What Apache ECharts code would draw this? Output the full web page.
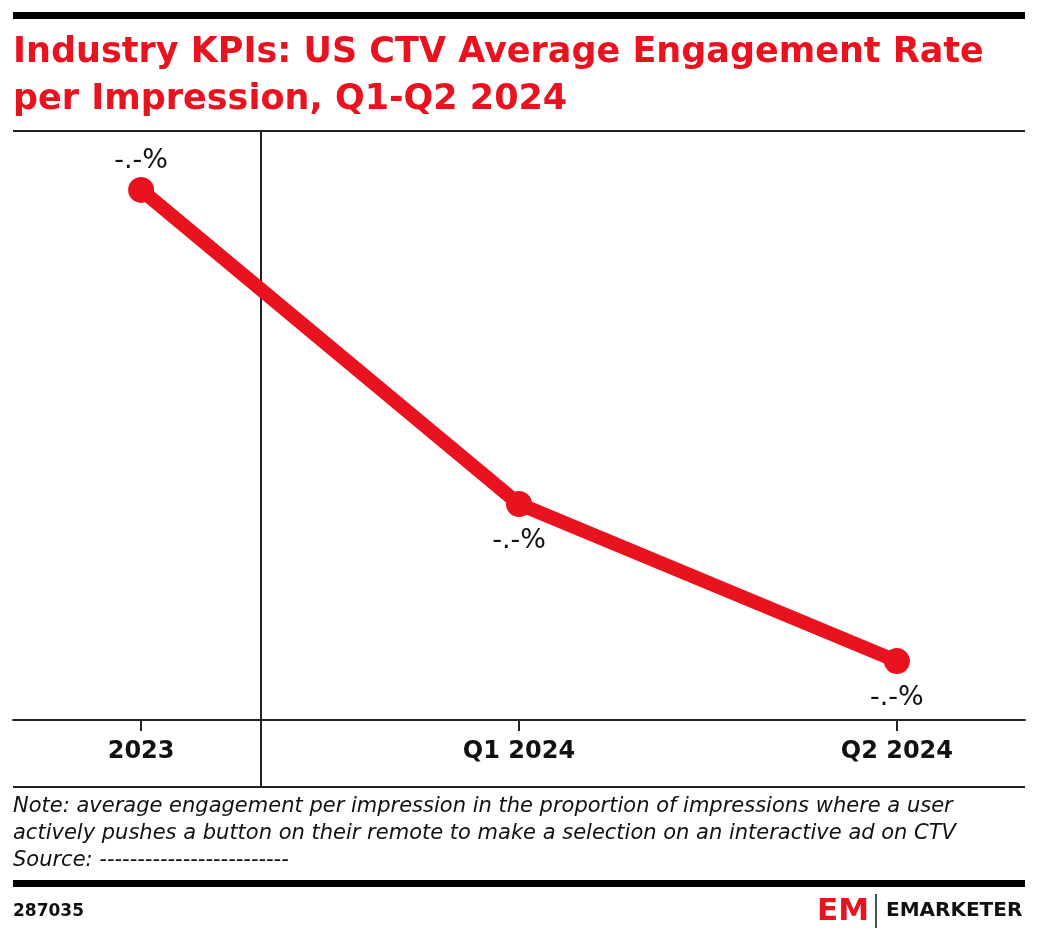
<!DOCTYPE html>
<html>
<head>
<meta charset="utf-8">
<script src="https://cdn.jsdelivr.net/npm/echarts@6/dist/echarts.min.js"></script>
<style>
  html, body { margin: 0; padding: 0; background: #fff; }
  #chart { width: 1038px; height: 941px; }
</style>
</head>
<body>
<div id="chart"></div>
<script>
// data (labels are masked in the source)
const categories = ['2023', 'Q1 2024', 'Q2 2024'];
const engagementRate = [2.70, 1.10, 0.30];
const pointLabels = ['-.-%', '-.-%', '-.-%'];
const labelSides = ['top', 'bottom', 'bottom'];
const labelGaps = [2, 10, 10];

const red = '#e8131f';
const dark = '#222';
const font = 'DejaVu Sans';

const chart = echarts.init(document.getElementById('chart'));

const seriesData = engagementRate.map((v, i) => ({
    value: [i, v],
    label: {
        show: true,
        position: labelSides[i],
        distance: labelGaps[i],
        formatter: pointLabels[i],
        color: '#111',
        fontSize: 27,
        fontFamily: font
    }
}));

const option = {
    backgroundColor: '#fff',
    animation: false,
    grid: {
        top: 131,
        left: 13,
        right: 13,
        bottom: 221
    },
    xAxis: {
        type: 'value',
        min: -0.339,
        max: 2.339,
        splitLine: { show: false },
        axisLine: { show: true, onZero: false, lineStyle: { color: dark, width: 2 } },
        axisTick: {
            show: true,
            customValues: [0, 1, 2],
            length: 11,
            lineStyle: { color: dark, width: 2 }
        },
        axisLabel: {
            customValues: [0, 1, 2],
            formatter: v => categories[Math.round(v)],
            margin: 20,
            color: '#111',
            fontSize: 24,
            fontWeight: 'bold',
            fontFamily: font
        }
    },
    yAxis: {
        type: 'value',
        min: 0,
        max: 3,
        show: false
    },
    graphic: [
        // top black bar
        { type: 'rect', shape: { x: 13, y: 12, width: 1012, height: 7 }, style: { fill: '#000' } },
        // title
        {
            type: 'text', left: 13, top: 29,
            style: {
                text: 'Industry KPIs: US CTV Average Engagement Rate\nper Impression, Q1-Q2 2024',
                fill: red, font: 'bold 35px "DejaVu Sans"', lineHeight: 47
            }
        },
        // divider under title
        { type: 'line', shape: { x1: 13, y1: 131, x2: 1025, y2: 131 }, style: { stroke: dark, lineWidth: 2 } },
        // separator between 2023 and quarters
        { type: 'line', shape: { x1: 261, y1: 131, x2: 261, y2: 787 }, style: { stroke: dark, lineWidth: 2 } },
        // bottom divider
        { type: 'line', shape: { x1: 13, y1: 787, x2: 1025, y2: 787 }, style: { stroke: dark, lineWidth: 2 } },
        // note and source
        {
            type: 'text', left: 13, top: 793,
            style: {
                text: 'Note: average engagement per impression in the proportion of impressions where a user\nactively pushes a button on their remote to make a selection on an interactive ad on CTV\nSource: -------------------------',
                fill: '#111', font: 'italic 21px "DejaVu Sans"', lineHeight: 27
            }
        },
        // bottom black bar
        { type: 'rect', shape: { x: 13, y: 880, width: 1012, height: 7 }, style: { fill: '#000' } },
        { type: 'text', left: 13, top: 903, style: { text: '287035', fill: '#111', font: 'bold 17px "DejaVu Sans"' } },
        // logo
        { type: 'text', left: 817, top: 896, style: { text: 'EM', fill: red, font: 'bold 31px "DejaVu Sans"' } },
        { type: 'line', shape: { x1: 876, y1: 894, x2: 876, y2: 928 }, style: { stroke: '#111', lineWidth: 1.5 } },
        { type: 'text', left: 886, top: 901, style: { text: 'EMARKETER', fill: '#111', font: 'bold 20px "DejaVu Sans"' } }
    ],
    series: [
        {
            type: 'line',
            data: seriesData,
            symbol: 'circle',
            symbolSize: 26,
            itemStyle: { color: red },
            lineStyle: { color: red, width: 14 }
        }
    ]
};

chart.setOption(option);
</script>
</body>
</html>
